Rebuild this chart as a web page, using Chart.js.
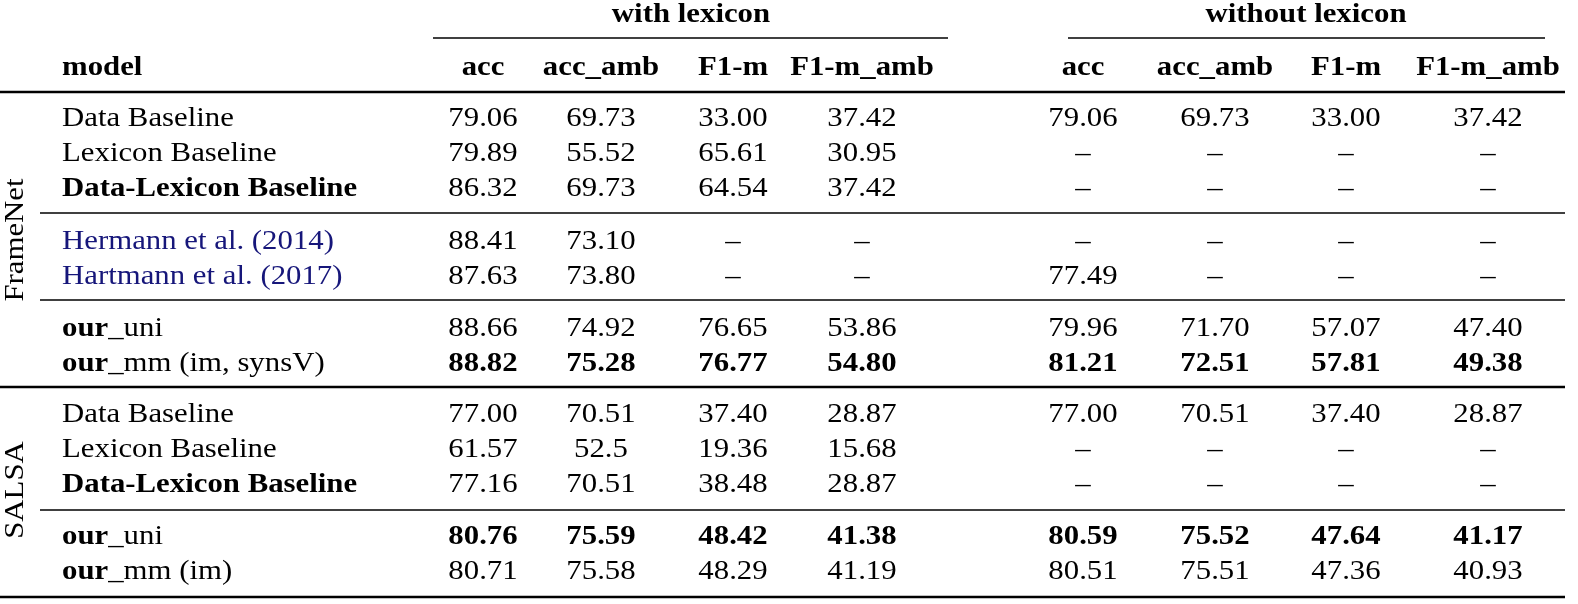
<!DOCTYPE html>
<html>
<head>
<meta charset="utf-8">
<script src="https://cdn.jsdelivr.net/npm/chart.js@4"></script>
<style>
  body { margin: 0; background: #fff; }
  canvas { display: block; }
</style>
</head>
<body>
<canvas id="tbl" width="1578" height="604"></canvas>
<script>
// ===== RESULTS TABLE =====
// table drawn as text on hidden linear scales

const GROUPS = ['with lexicon', 'without lexicon'];
const COLUMNS = ['acc', 'acc_amb', 'F1-m', 'F1-m_amb', 'acc', 'acc_amb', 'F1-m', 'F1-m_amb'];
const SECTIONS = ['FrameNet', 'SALSA'];

// model name split in bold part and plain part
const MODEL_BOLD = [
  '', '', 'Data-Lexicon Baseline', '', '', 'our', 'our',
  '', '', 'Data-Lexicon Baseline', 'our', 'our'
];
const MODEL_PLAIN = [
  'Data Baseline', 'Lexicon Baseline', '', 'Hermann et al. (2014)', 'Hartmann et al. (2017)', '_uni', '_mm (im, synsV)',
  'Data Baseline', 'Lexicon Baseline', '', '_uni', '_mm (im)'
];
const MODEL_LINK = [false, false, false, true, true, false, false, false, false, false, false, false];

const VALUES = [
  ['79.06', '69.73', '33.00', '37.42', '79.06', '69.73', '33.00', '37.42'],
  ['79.89', '55.52', '65.61', '30.95', '–', '–', '–', '–'],
  ['86.32', '69.73', '64.54', '37.42', '–', '–', '–', '–'],
  ['88.41', '73.10', '–', '–', '–', '–', '–', '–'],
  ['87.63', '73.80', '–', '–', '77.49', '–', '–', '–'],
  ['88.66', '74.92', '76.65', '53.86', '79.96', '71.70', '57.07', '47.40'],
  ['88.82', '75.28', '76.77', '54.80', '81.21', '72.51', '57.81', '49.38'],
  ['77.00', '70.51', '37.40', '28.87', '77.00', '70.51', '37.40', '28.87'],
  ['61.57', '52.5', '19.36', '15.68', '–', '–', '–', '–'],
  ['77.16', '70.51', '38.48', '28.87', '–', '–', '–', '–'],
  ['80.76', '75.59', '48.42', '41.38', '80.59', '75.52', '47.64', '41.17'],
  ['80.71', '75.58', '48.29', '41.19', '80.51', '75.51', '47.36', '40.93']
];
const BOLD_ROWS = [6, 10];

// layout (in scale units = pixels)
const COL_X = [483, 601, 733, 862, 1083, 1215, 1346, 1488];
const ROW_Y = [119, 154, 189, 242, 277, 329, 364, 415, 450, 485, 537, 572];
const GROUP_X = [691, 1306];
const SECTION_Y = [240, 490];
const RULES = [
  [38, 433, 948, 1.3], [38, 1068, 1545, 1.3],
  [92, 0, 1565, 2.5], [213, 40, 1565, 1.3], [300, 40, 1565, 1.3],
  [387, 0, 1565, 2.5], [510, 40, 1565, 1.3], [597, 0, 1565, 2.5]
];

const FONT = '"Liberation Serif", "DejaVu Serif", serif';
const SIZE = 28;
const STRETCH = 1.1;

// draw text widened horizontally, returns drawn width
function txt(ctx, s, x, y, align) {
  const w = ctx.measureText(s).width * STRETCH;
  const left = align === 'center' ? x - w / 2 : x;
  ctx.save();
  ctx.textAlign = 'left';
  ctx.translate(left, y);
  ctx.scale(STRETCH, 1);
  ctx.fillText(s, 0, 0);
  ctx.restore();
  return w;
}

const tablePlugin = {
  id: 'tableText',
  afterDraw(chart) {
    const ctx = chart.ctx;
    const xs = chart.scales.x, ys = chart.scales.y;
    const X = v => xs.getPixelForValue(v), Y = v => ys.getPixelForValue(v);
    const bold = 'bold ' + SIZE + 'px ' + FONT, plain = SIZE + 'px ' + FONT;
    ctx.save();
    ctx.fillStyle = '#000';
    ctx.textBaseline = 'middle';

    // rules
    RULES.forEach(([y, x0, x1, w]) => {
      ctx.beginPath();
      ctx.lineWidth = w;
      ctx.strokeStyle = '#000';
      ctx.moveTo(X(x0), Y(y));
      ctx.lineTo(X(x1), Y(y));
      ctx.stroke();
    });

    // headers
    ctx.font = bold;
    GROUPS.forEach((g, i) => txt(ctx, g, X(GROUP_X[i]), Y(15), 'center'));
    COLUMNS.forEach((c, i) => txt(ctx, c, X(COL_X[i]), Y(68), 'center'));
    txt(ctx, 'model', X(62), Y(68), 'left');

    // section labels, rotated
    ctx.font = plain;
    ctx.textAlign = 'center';
    SECTIONS.forEach((s, i) => {
      ctx.save();
      ctx.translate(X(16), Y(SECTION_Y[i]));
      ctx.rotate(-Math.PI / 2);
      ctx.scale(STRETCH, 1);
      ctx.fillText(s, 0, 0);
      ctx.restore();
    });

    // body rows
    VALUES.forEach((row, r) => {
      const y = Y(ROW_Y[r]);
      let x = X(62);
      if (MODEL_BOLD[r]) {
        ctx.font = bold;
        ctx.fillStyle = '#000';
        x += txt(ctx, MODEL_BOLD[r], x, y, 'left');
      }
      if (MODEL_PLAIN[r]) {
        ctx.font = plain;
        ctx.fillStyle = MODEL_LINK[r] ? '#16167a' : '#000';
        txt(ctx, MODEL_PLAIN[r], x, y, 'left');
      }
      ctx.fillStyle = '#000';
      ctx.font = BOLD_ROWS.includes(r) ? bold : plain;
      row.forEach((v, c) => txt(ctx, v, X(COL_X[c]), y, 'center'));
    });
    ctx.restore();
  }
};

new Chart(document.getElementById('tbl'), {
  type: 'scatter',
  data: { datasets: [{ data: [] }] },
  options: {
    responsive: false,
    animation: false,
    devicePixelRatio: 1,
    layout: { padding: 0 },
    plugins: { legend: { display: false }, tooltip: { enabled: false } },
    scales: {
      x: { type: 'linear', min: 0, max: 1578, display: false },
      y: { type: 'linear', min: 0, max: 604, reverse: true, display: false }
    }
  },
  plugins: [tablePlugin]
});
</script>
</body>
</html>
